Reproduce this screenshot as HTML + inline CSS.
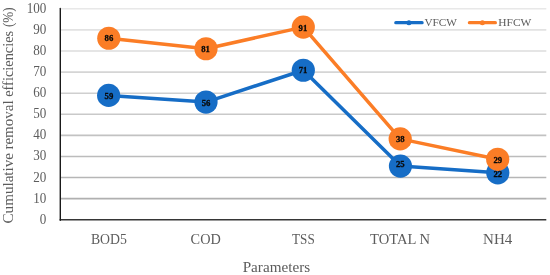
<!DOCTYPE html>
<html lang="en"><head><meta charset="utf-8"><title>Cumulative removal efficiencies</title>
<style>html,body{margin:0;padding:0;background:#fff;overflow:hidden}svg{display:block}text{font-family:"Liberation Serif","DejaVu Serif",serif}</style></head><body>
<svg width="550" height="275" viewBox="0 0 550 275">
<rect width="550" height="275" fill="#fff"/>
<line x1="60.30" x2="546.30" y1="198.66" y2="198.66" stroke="#b0b0b0" stroke-width="1.6"/>
<line x1="60.30" x2="546.30" y1="177.56" y2="177.56" stroke="#b6b6b6" stroke-width="1.6"/>
<line x1="60.30" x2="546.30" y1="156.47" y2="156.47" stroke="#bcbcbc" stroke-width="1.6"/>
<line x1="60.30" x2="546.30" y1="135.37" y2="135.37" stroke="#c2c2c2" stroke-width="1.6"/>
<line x1="60.30" x2="546.30" y1="114.27" y2="114.27" stroke="#c9c9c9" stroke-width="1.6"/>
<line x1="60.30" x2="546.30" y1="93.18" y2="93.18" stroke="#cfcfcf" stroke-width="1.6"/>
<line x1="60.30" x2="546.30" y1="72.08" y2="72.08" stroke="#d5d5d5" stroke-width="1.6"/>
<line x1="60.30" x2="546.30" y1="50.99" y2="50.99" stroke="#dcdcdc" stroke-width="1.6"/>
<line x1="60.30" x2="546.30" y1="29.89" y2="29.89" stroke="#e2e2e2" stroke-width="1.6"/>
<line x1="60.30" x2="546.30" y1="8.80" y2="8.80" stroke="#e8e8e8" stroke-width="1.6"/>
<line x1="59.60" x2="546.30" y1="219.72" y2="219.72" stroke="#363636" stroke-width="1.5"/>
<line x1="60.30" x2="60.30" y1="8.40" y2="220.25" stroke="#1a1a1a" stroke-width="1.4" stroke-linecap="round"/>
<text x="46.40" y="223.70" font-size="13.8" fill="#5c5c5c" text-anchor="end" textLength="6.55" lengthAdjust="spacingAndGlyphs">0</text>
<text x="46.40" y="202.61" font-size="13.8" fill="#5c5c5c" text-anchor="end" textLength="13.1" lengthAdjust="spacingAndGlyphs">10</text>
<text x="46.40" y="181.51" font-size="13.8" fill="#5c5c5c" text-anchor="end" textLength="13.1" lengthAdjust="spacingAndGlyphs">20</text>
<text x="46.40" y="160.42" font-size="13.8" fill="#5c5c5c" text-anchor="end" textLength="13.1" lengthAdjust="spacingAndGlyphs">30</text>
<text x="46.40" y="139.32" font-size="13.8" fill="#5c5c5c" text-anchor="end" textLength="13.1" lengthAdjust="spacingAndGlyphs">40</text>
<text x="46.40" y="118.22" font-size="13.8" fill="#5c5c5c" text-anchor="end" textLength="13.1" lengthAdjust="spacingAndGlyphs">50</text>
<text x="46.40" y="97.13" font-size="13.8" fill="#5c5c5c" text-anchor="end" textLength="13.1" lengthAdjust="spacingAndGlyphs">60</text>
<text x="46.40" y="76.03" font-size="13.8" fill="#5c5c5c" text-anchor="end" textLength="13.1" lengthAdjust="spacingAndGlyphs">70</text>
<text x="46.40" y="54.94" font-size="13.8" fill="#5c5c5c" text-anchor="end" textLength="13.1" lengthAdjust="spacingAndGlyphs">80</text>
<text x="46.40" y="33.84" font-size="13.8" fill="#5c5c5c" text-anchor="end" textLength="13.1" lengthAdjust="spacingAndGlyphs">90</text>
<text x="46.40" y="12.75" font-size="13.8" fill="#5c5c5c" text-anchor="end" textLength="19.65" lengthAdjust="spacingAndGlyphs">100</text>
<text x="108.90" y="243.55" font-size="14.2" fill="#5c5c5c" text-anchor="middle" textLength="36.0" lengthAdjust="spacingAndGlyphs">BOD5</text>
<text x="205.70" y="243.55" font-size="14.2" fill="#5c5c5c" text-anchor="middle" textLength="30.2" lengthAdjust="spacingAndGlyphs">COD</text>
<text x="303.40" y="243.55" font-size="14.2" fill="#5c5c5c" text-anchor="middle" textLength="22.6" lengthAdjust="spacingAndGlyphs">TSS</text>
<text x="400.10" y="243.55" font-size="14.2" fill="#5c5c5c" text-anchor="middle" textLength="60.0" lengthAdjust="spacingAndGlyphs">TOTAL N</text>
<text x="497.70" y="243.55" font-size="14.2" fill="#5c5c5c" text-anchor="middle" textLength="29.2" lengthAdjust="spacingAndGlyphs">NH4</text>
<text x="276.40" y="271.50" font-size="14.2" fill="#5c5c5c" text-anchor="middle" textLength="67.4" lengthAdjust="spacingAndGlyphs">Parameters</text>
<g transform="translate(12.7,223.2) rotate(-90)" font-size="13.8" fill="#5c5c5c">
<text x="-0.30" y="0" textLength="70.50" lengthAdjust="spacingAndGlyphs">Cumulative</text>
<text x="73.60" y="0" textLength="49.20" lengthAdjust="spacingAndGlyphs">removal</text>
<text x="126.40" y="0" textLength="66.00" lengthAdjust="spacingAndGlyphs">efficiencies</text>
<text x="196.10" y="0" textLength="19.70" lengthAdjust="spacingAndGlyphs">(%)</text>
</g>
<polyline points="108.65,95.40 206.00,102.05 303.30,70.25 400.45,166.10 497.80,172.80" fill="none" stroke="#166dc6" stroke-width="3.5" stroke-linejoin="round" stroke-linecap="round"/>
<circle cx="108.65" cy="95.40" r="11.6" fill="#166dc6"/>
<circle cx="206.00" cy="102.05" r="11.6" fill="#166dc6"/>
<circle cx="303.30" cy="70.25" r="11.6" fill="#166dc6"/>
<circle cx="400.45" cy="166.10" r="11.6" fill="#166dc6"/>
<circle cx="497.80" cy="172.80" r="11.6" fill="#166dc6"/>
<polyline points="108.80,38.25 206.00,48.75 303.30,27.10 400.20,138.90 497.70,159.30" fill="none" stroke="#fb7d26" stroke-width="3.5" stroke-linejoin="round" stroke-linecap="round"/>
<circle cx="108.80" cy="38.25" r="11.6" fill="#fb7d26"/>
<circle cx="206.00" cy="48.75" r="11.6" fill="#fb7d26"/>
<circle cx="303.30" cy="27.10" r="11.6" fill="#fb7d26"/>
<circle cx="400.20" cy="138.90" r="11.6" fill="#fb7d26"/>
<circle cx="497.70" cy="159.30" r="11.6" fill="#fb7d26"/>
<text x="108.90" y="98.60" font-size="9" fill="#0a0a0a" text-anchor="middle" textLength="8.7" lengthAdjust="spacingAndGlyphs" font-weight="bold" stroke="#0a0a0a" stroke-width="0.3">59</text>
<text x="206.00" y="105.60" font-size="9" fill="#0a0a0a" text-anchor="middle" textLength="8.7" lengthAdjust="spacingAndGlyphs" font-weight="bold" stroke="#0a0a0a" stroke-width="0.3">56</text>
<text x="303.00" y="73.30" font-size="9" fill="#0a0a0a" text-anchor="middle" textLength="8.7" lengthAdjust="spacingAndGlyphs" font-weight="bold" stroke="#0a0a0a" stroke-width="0.3">71</text>
<text x="400.30" y="167.00" font-size="9" fill="#0a0a0a" text-anchor="middle" textLength="8.7" lengthAdjust="spacingAndGlyphs" font-weight="bold" stroke="#0a0a0a" stroke-width="0.3">25</text>
<text x="497.80" y="176.70" font-size="9" fill="#0a0a0a" text-anchor="middle" textLength="8.7" lengthAdjust="spacingAndGlyphs" font-weight="bold" stroke="#0a0a0a" stroke-width="0.3">22</text>
<text x="108.90" y="41.05" font-size="9" fill="#0a0a0a" text-anchor="middle" textLength="8.7" lengthAdjust="spacingAndGlyphs" font-weight="bold" stroke="#0a0a0a" stroke-width="0.3">86</text>
<text x="205.60" y="51.55" font-size="9" fill="#0a0a0a" text-anchor="middle" textLength="8.7" lengthAdjust="spacingAndGlyphs" font-weight="bold" stroke="#0a0a0a" stroke-width="0.3">81</text>
<text x="302.90" y="30.95" font-size="9" fill="#0a0a0a" text-anchor="middle" textLength="8.7" lengthAdjust="spacingAndGlyphs" font-weight="bold" stroke="#0a0a0a" stroke-width="0.3">91</text>
<text x="400.30" y="141.80" font-size="9" fill="#0a0a0a" text-anchor="middle" textLength="8.7" lengthAdjust="spacingAndGlyphs" font-weight="bold" stroke="#0a0a0a" stroke-width="0.3">38</text>
<text x="497.80" y="163.10" font-size="9" fill="#0a0a0a" text-anchor="middle" textLength="8.7" lengthAdjust="spacingAndGlyphs" font-weight="bold" stroke="#0a0a0a" stroke-width="0.3">29</text>
<line x1="395.80" x2="422.10" y1="22.65" y2="22.65" stroke="#166dc6" stroke-width="3.2" stroke-linecap="round"/>
<circle cx="408.95" cy="22.65" r="2.5" fill="#166dc6"/>
<text x="424.40" y="25.50" font-size="11.4" fill="#5c5c5c" text-anchor="start" textLength="32.6" lengthAdjust="spacingAndGlyphs">VFCW</text>
<line x1="469.40" x2="495.40" y1="22.65" y2="22.65" stroke="#fb7d26" stroke-width="3.2" stroke-linecap="round"/>
<circle cx="482.40" cy="22.65" r="2.5" fill="#fb7d26"/>
<text x="498.30" y="25.50" font-size="11.4" fill="#5c5c5c" text-anchor="start" textLength="33.0" lengthAdjust="spacingAndGlyphs">HFCW</text>
</svg></body></html>
